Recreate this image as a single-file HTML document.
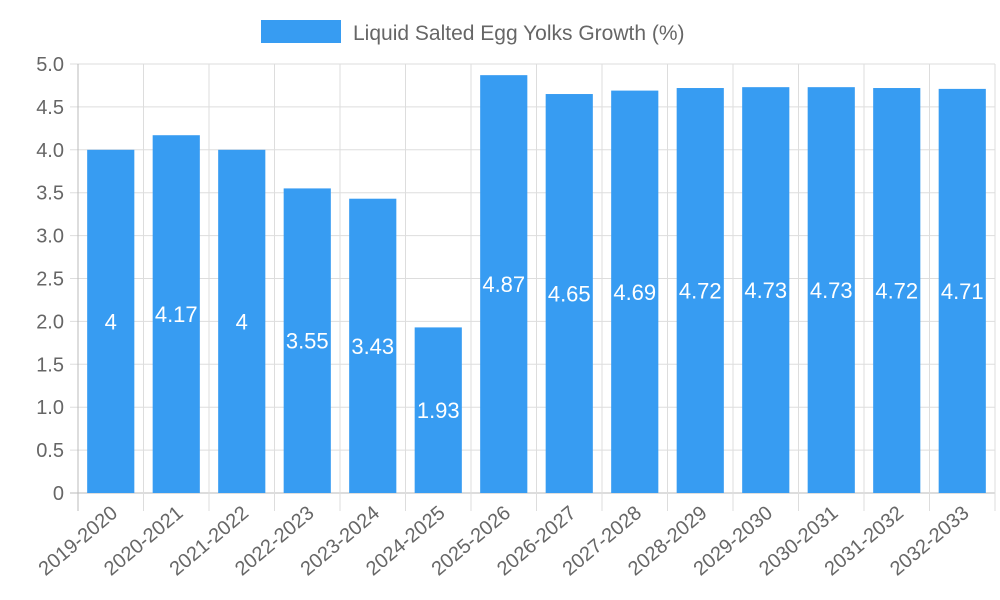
<!DOCTYPE html>
<html><head><meta charset="utf-8"><style>
html,body{margin:0;padding:0;background:#fff;width:1000px;height:600px;overflow:hidden}
text{font-family:"Liberation Sans",sans-serif}
</style></head><body>
<svg id="chart" width="1000" height="600" xmlns="http://www.w3.org/2000/svg">
<g id="legend">
<rect x="261" y="20" width="80" height="23" fill="#379cf2"/>
<text x="353" y="40" font-size="21" fill="#666">Liquid Salted Egg Yolks Growth (%)</text>
</g>
<g id="grid"></g><g id="bars"></g><g id="axes"></g>
</svg>
<script>
const categories=["2019-2020","2020-2021","2021-2022","2022-2023","2023-2024","2024-2025","2025-2026","2026-2027","2027-2028","2028-2029","2029-2030","2030-2031","2031-2032","2032-2033"];
const values=[4,4.17,4,3.55,3.43,1.93,4.87,4.65,4.69,4.72,4.73,4.73,4.72,4.71];
const yTicks=[0,0.5,1.0,1.5,2.0,2.5,3.0,3.5,4.0,4.5,5.0];
const yTickLabels=["0","0.5","1.0","1.5","2.0","2.5","3.0","3.5","4.0","4.5","5.0"];
const NS="http://www.w3.org/2000/svg";
const L=78,R=995,T=64,B=493,yMax=5;
const bw=(R-L)/categories.length;
const y=v=>B-(v/yMax)*(B-T);
const x=i=>L+i*bw;
function mk(tag,attrs,parent,txt){const e=document.createElementNS(NS,tag);for(const k in attrs)e.setAttribute(k,attrs[k]);if(txt!==undefined)e.textContent=txt;parent.appendChild(e);return e;}
const grid=document.getElementById('grid'),bars=document.getElementById('bars'),axes=document.getElementById('axes');
yTicks.forEach((t,i)=>{
  const ln=mk('line',{x1:70,x2:R,y1:y(t),y2:y(t),stroke:i===0?'#bbb':'#ddd','stroke-width':1},grid);
  
  
  const tx=mk('text',{x:64,y:y(t)+7,'text-anchor':'end','font-size':20,fill:'#666'},axes,yTickLabels[i]);
  
  
});
for(let i=0;i<=categories.length;i++){
  const ln=mk('line',{x1:x(i),x2:x(i),y1:T,y2:B+18,stroke:i===0?'#bbb':'#ddd','stroke-width':1},grid);
  
  
}
categories.forEach((c,i)=>{
  const cx=x(i)+bw/2,w=bw*0.72,v=values[i];
  const r=mk('rect',{x:cx-w/2,y:y(v),width:w,height:B-y(v),fill:'#379cf2'},bars);
  
  
  const lb=mk('text',{x:cx,y:(y(v)+B)/2+8,'text-anchor':'middle','font-size':22,fill:'#fff'},bars,String(v));
  
  
  const tx=mk('text',{x:cx+8,y:B+22,'text-anchor':'end','font-size':20,fill:'#666',transform:`rotate(-40 ${cx+8} ${B+22})`},axes,c);
  
  
});
</script>
</body></html>
